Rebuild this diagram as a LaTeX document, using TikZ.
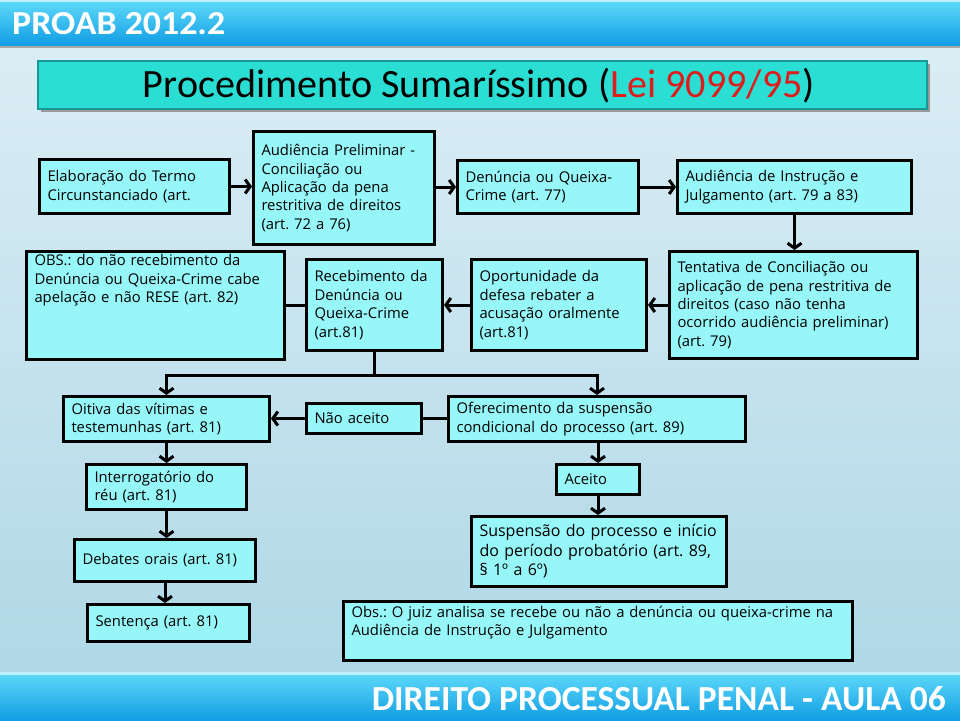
\documentclass[tikz,border=0pt]{standalone}
\usepackage{fontspec}
\setmainfont{Carlito}
\newfontfamily\topfont{Open Sans}
\frenchspacing
\usetikzlibrary{arrows.meta,positioning,calc}
\definecolor{boxfill}{RGB}{150,246,248}
\definecolor{titlefill}{RGB}{42,222,212}
\definecolor{titleline}{RGB}{25,150,150}
\definecolor{bgtop}{RGB}{222,239,246}
\definecolor{bgbot}{RGB}{172,214,229}
\definecolor{bartop}{RGB}{95,218,250}
\definecolor{barbot}{RGB}{18,158,228}
\definecolor{redtxt}{RGB}{222,28,28}
\tikzset{
  box/.style={draw=black, line width=3pt, fill=boxfill, align=left, anchor=north west, inner xsep=8pt, inner ysep=3pt,
    font=\topfont\frenchspacing\fontsize{14.8}{18.4}\selectfont},
  topbox/.style={box},
  lowbox/.style={box},
  bigbox/.style={box, font=\topfont\frenchspacing\fontsize{16}{19.5}\selectfont},
  arr/.style={line width=3pt, -{Straight Barb[length=5pt,width=14pt,line width=3pt]}},
  conn/.style={line width=3pt},
}
\newcommand{\bx}[7]{% style, name, x, y, w, h, text
  \node[#1, text width=#5pt-16pt, minimum height=#6pt] (#2) at (#3,#4) {#7};}
\begin{document}
\begin{tikzpicture}[x=1pt,y=-1pt]
\useasboundingbox (0,0) rectangle (960,720);
% background
\shade[top color=bgtop, bottom color=bgbot] (0,0) rectangle (960,720);
% header bar
\fill[black!35] (0,45) rectangle (960,48);
\shade[top color=bartop, bottom color=barbot] (0,0) rectangle (960,45);
\fill[white!60!bartop] (0,0) rectangle (960,2);
\node[anchor=west, inner sep=0, text=white] (hdr) at (12,23.5) {\resizebox{213pt}{22pt}{\bfseries PROAB 2012.2}};
% footer bar
\shade[top color=bartop, bottom color=barbot] (0,672) rectangle (960,720);
\fill[white!60!bartop] (0,672) rectangle (960,675);
\node[anchor=east, inner sep=0, text=white] (ftr) at (946,699) {\resizebox{574pt}{24pt}{\bfseries DIREITO PROCESSUAL PENAL - AULA 06}};
% title
\fill[black!40] (41,64) rectangle (930,112);
\node[draw=titleline, line width=1.5pt, fill=titlefill, minimum width=889pt, minimum height=48pt, anchor=north west, inner sep=0] (title) at (37,60) {};
\node[inner sep=0] (titletxt) at (479,86) {\resizebox{672pt}{!}{Procedimento Sumaríssimo (\textcolor{redtxt}{Lei 9099/95})}};
% top row
\bx{topbox}{elab}{38}{158}{190}{54}{Elaboração do Termo\\Circunstanciado (art.}
\bx{topbox}{aud}{252}{130}{181}{113}{Audiência Preliminar -\\Conciliação ou\\Aplicação da pena\\restritiva de direitos\\(art. 72 a 76)}
\bx{topbox}{den}{456}{159}{181}{53}{Denúncia ou Queixa-\\Crime (art. 77)}
\bx{topbox}{aij}{676}{159}{234}{53}{Audiência de Instrução e\\Julgamento (art. 79 a 83)}
% second row
\bx{topbox}{tent}{668}{250}{248}{107}{Tentativa de Conciliação ou\\\mbox{aplicação de pena restritiva de}\\direitos (caso não tenha\\\mbox{ocorrido audiência preliminar)}\\(art. 79)}
\bx{topbox}{oport}{470}{258}{175}{91}{Oportunidade da\\defesa rebater a\\acusação oralmente\\(art.81)}
\bx{topbox}{receb}{305}{258}{136}{91}{Recebimento da\\Denúncia ou\\Queixa-Crime\\(art.81)}
\bx{topbox}{obs}{25}{250}{258}{106}{OBS.: do não recebimento da\\\mbox{Denúncia ou Queixa-Crime cabe}\\apelação e não RESE (art. 82)\\[36pt]\mbox{}}
% lower part
\bx{lowbox}{oit}{62}{395}{206}{45}{Oitiva das vítimas e\\testemunhas (art. 81)}
\bx{lowbox}{nao}{305}{402}{115}{30}{Não aceito}
\bx{lowbox}{ofer}{447}{395}{297}{45}{Oferecimento da suspensão\\\mbox{condicional do processo (art. 89)}}
\bx{lowbox}{aceito}{555}{463}{83}{30}{Aceito}
\bx{lowbox}{inter}{85}{463}{160}{45}{Interrogatório do\\réu (art. 81)}
\bx{bigbox}{susp}{470}{515}{255}{70}{\mbox{Suspensão do processo e início}\\\mbox{do período probatório (art. 89,}\\§ 1º a 6º)}
\bx{lowbox}{deb}{73}{538}{181}{42}{\mbox{Debates orais (art. 81)}}
\bx{lowbox}{sent}{86}{603}{162}{37}{Sentença (art. 81)}
\bx{lowbox}{obsj}{342}{600}{509}{59}{\mbox{Obs.: O juiz analisa se recebe ou não a denúncia ou queixa-crime na}\\Audiência de Instrução e Julgamento\\[2pt]\mbox{}}
% connectors
\draw[arr] (elab.east) -- (elab.east -| aud.west);
\draw[arr] (aud.east |- den.west) -- (den.west);
\draw[arr] (den.east) -- (den.east -| aij.west);
\draw[arr] (aij.south) -- (aij.south |- tent.north);
\draw[arr] (tent.west |- oport.east) -- (oport.east);
\draw[arr] (oport.west) -- (oport.west -| receb.east);
\draw[conn] (receb.west) -- (receb.west -| obs.east);
\coordinate (split) at ($(receb.south)+(0,23)$);
\draw[conn] (receb.south) -- (split);
\draw[arr] (split) -| (oit.north);
\draw[arr] (split) -| (ofer.north);
\draw[conn] (ofer.west |- nao.east) -- (nao.east);
\draw[arr] (nao.west) -- (nao.west -| oit.east);
\draw[arr] (aceito.north |- ofer.south) -- (aceito.north);
\draw[arr] (aceito.south) -- (aceito.south |- susp.north);
\draw[arr] (inter.north |- oit.south) -- (inter.north);
\draw[arr] (inter.south) -- (inter.south |- deb.north);
\draw[arr] (deb.south) -- (deb.south |- sent.north);
\end{tikzpicture}
\end{document}
